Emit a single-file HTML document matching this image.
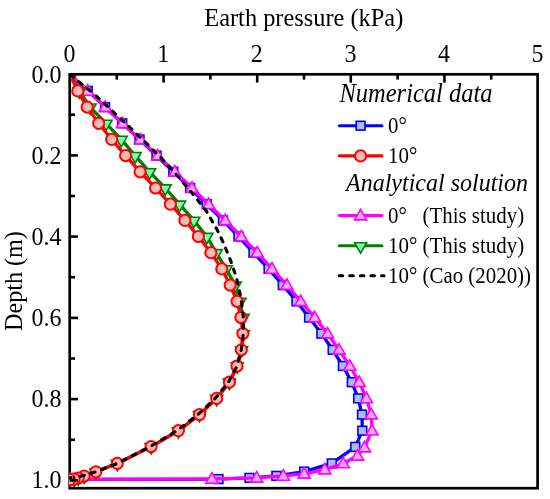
<!DOCTYPE html>
<html><head><meta charset="utf-8"><title>Earth pressure</title>
<style>
html,body{margin:0;padding:0;background:#fff;}
svg{display:block;font-family:"Liberation Serif",serif;fill:#000;}
.ax{stroke:#000;stroke-width:2.7;fill:none;stroke-linecap:square}
.tk{stroke:#000;stroke-width:2.6;fill:none}
.ln{fill:none;stroke-linejoin:round;stroke-linecap:round}
.mk{stroke-linejoin:miter}
</style></head><body>
<svg width="550" height="499" viewBox="0 0 550 499">
<rect x="0" y="0" width="550" height="499" fill="#fff"/>

<clipPath id="cp"><rect x="69" y="73" width="470" height="415"/></clipPath>
<clipPath id="cp2"><rect x="68.9" y="464" width="3.4" height="23"/></clipPath>
<g id="dat" clip-path="url(#cp)">
<polyline class="ln" stroke="#0000ff" stroke-width="3.3" points="70.0,74.7 87.8,90.9 105.1,107.1 122.2,123.3 139.5,139.4 156.5,155.6 173.3,171.8 190.1,188.0 206.7,204.2 223.0,220.4 238.5,236.5 253.5,252.7 268.6,268.9 282.8,285.1 296.5,301.3 309.1,317.5 321.4,333.6 332.7,349.8 342.9,366.0 351.8,382.2 358.2,398.4 362.0,414.6 362.3,430.7 355.3,446.9 331.8,463.4 304.2,471.6 276.4,475.9 249.5,477.9 218.5,479.1 70.0,479.3"/>
<g class="mk" stroke="#0000ff" fill="#b0bcf0" stroke-width="1.6">
<rect x="83.4" y="86.5" width="8.8" height="8.8"/>
<rect x="100.7" y="102.7" width="8.8" height="8.8"/>
<rect x="117.8" y="118.9" width="8.8" height="8.8"/>
<rect x="135.1" y="135.0" width="8.8" height="8.8"/>
<rect x="152.1" y="151.2" width="8.8" height="8.8"/>
<rect x="168.9" y="167.4" width="8.8" height="8.8"/>
<rect x="185.7" y="183.6" width="8.8" height="8.8"/>
<rect x="202.3" y="199.8" width="8.8" height="8.8"/>
<rect x="218.6" y="216.0" width="8.8" height="8.8"/>
<rect x="234.1" y="232.1" width="8.8" height="8.8"/>
<rect x="249.1" y="248.3" width="8.8" height="8.8"/>
<rect x="264.2" y="264.5" width="8.8" height="8.8"/>
<rect x="278.4" y="280.7" width="8.8" height="8.8"/>
<rect x="292.1" y="296.9" width="8.8" height="8.8"/>
<rect x="304.7" y="313.1" width="8.8" height="8.8"/>
<rect x="317.0" y="329.2" width="8.8" height="8.8"/>
<rect x="328.3" y="345.4" width="8.8" height="8.8"/>
<rect x="338.5" y="361.6" width="8.8" height="8.8"/>
<rect x="347.4" y="377.8" width="8.8" height="8.8"/>
<rect x="353.8" y="394.0" width="8.8" height="8.8"/>
<rect x="357.6" y="410.2" width="8.8" height="8.8"/>
<rect x="357.9" y="426.3" width="8.8" height="8.8"/>
<rect x="350.9" y="442.5" width="8.8" height="8.8"/>
<rect x="327.4" y="459.0" width="8.8" height="8.8"/>
<rect x="299.8" y="467.2" width="8.8" height="8.8"/>
<rect x="272.0" y="471.5" width="8.8" height="8.8"/>
<rect x="245.1" y="473.5" width="8.8" height="8.8"/>
<rect x="214.1" y="474.7" width="8.8" height="8.8"/>
</g>
<polyline class="ln" stroke="#ff00ff" stroke-width="3.3" points="70.0,74.7 87.8,90.9 105.3,107.1 122.5,123.3 140.4,139.4 157.7,155.6 174.8,171.8 192.0,188.0 208.5,204.2 225.3,220.4 241.3,236.5 257.2,252.7 272.0,268.9 286.9,285.1 300.7,301.3 314.7,317.5 327.6,333.6 339.1,349.8 349.8,366.0 359.2,382.2 366.4,398.4 371.2,414.6 372.0,430.7 364.5,447.6 357.5,455.8 343.3,463.5 324.7,469.6 304.1,473.8 283.4,475.9 256.7,477.8 212.0,478.9 70.0,479.3"/>
<g class="mk" stroke="#ff00ff" fill="#ffaaf4" stroke-width="1.6">
<polygon points="87.8,84.7 93.8,95.2 81.7,95.2"/>
<polygon points="105.3,100.9 111.3,111.4 99.2,111.4"/>
<polygon points="122.5,117.1 128.6,127.5 116.5,127.5"/>
<polygon points="140.4,133.3 146.4,143.7 134.3,143.7"/>
<polygon points="157.7,149.4 163.8,159.9 151.7,159.9"/>
<polygon points="174.8,165.6 180.9,176.1 168.8,176.1"/>
<polygon points="192.0,181.8 198.0,192.3 185.9,192.3"/>
<polygon points="208.5,198.0 214.6,208.5 202.5,208.5"/>
<polygon points="225.3,214.2 231.3,224.6 219.2,224.6"/>
<polygon points="241.3,230.4 247.3,240.8 235.2,240.8"/>
<polygon points="257.2,246.5 263.2,257.0 251.1,257.0"/>
<polygon points="272.0,262.7 278.0,273.2 265.9,273.2"/>
<polygon points="286.9,278.9 292.9,289.4 280.8,289.4"/>
<polygon points="300.7,295.1 306.8,305.6 294.7,305.6"/>
<polygon points="314.7,311.3 320.7,321.8 308.6,321.8"/>
<polygon points="327.6,327.5 333.6,337.9 321.5,337.9"/>
<polygon points="339.1,343.6 345.1,354.1 333.0,354.1"/>
<polygon points="349.8,359.8 355.8,370.3 343.7,370.3"/>
<polygon points="359.2,376.0 365.3,386.5 353.2,386.5"/>
<polygon points="366.4,392.2 372.5,402.7 360.4,402.7"/>
<polygon points="371.2,408.4 377.3,418.9 365.2,418.9"/>
<polygon points="372.0,424.6 378.1,435.0 366.0,435.0"/>
<polygon points="364.5,441.4 370.6,451.9 358.4,451.9"/>
<polygon points="357.5,449.6 363.6,460.1 351.4,460.1"/>
<polygon points="343.3,457.3 349.4,467.8 337.2,467.8"/>
<polygon points="324.7,463.4 330.8,473.9 318.6,473.9"/>
<polygon points="304.1,467.6 310.2,478.1 298.1,478.1"/>
<polygon points="283.4,469.7 289.4,480.2 277.3,480.2"/>
<polygon points="256.7,471.6 262.8,482.1 250.6,482.1"/>
<polygon points="212.0,472.7 218.1,483.2 205.9,483.2"/>
<polygon points="70.0,473.1 76.0,483.6 64.0,483.6"/>
</g>
<polyline class="ln" stroke="#008000" stroke-width="3.3" points="70.0,74.7 79.4,90.9 90.1,107.1 106.0,123.3 121.2,139.4 135.1,155.6 149.6,171.8 165.2,188.0 179.5,204.2 193.8,220.4 206.8,236.5 216.2,252.7 226.1,268.9 235.2,285.1 240.0,301.3 243.2,317.5 243.4,333.6 241.6,349.8 237.2,366.0 229.4,382.2 216.7,398.4 199.5,414.6 178.4,430.7 151.1,446.6 117.3,463.4 95.9,471.8 84.1,476.1 78.2,478.0 74.1,479.1 69.5,479.7"/>
<g class="mk" stroke="#008000" fill="#80ffb0" stroke-width="1.6">
<polygon points="79.4,98.3 85.4,87.8 73.3,87.8"/>
<polygon points="90.1,114.5 96.2,104.0 84.1,104.0"/>
<polygon points="106.0,130.6 112.1,120.2 100.0,120.2"/>
<polygon points="121.2,146.8 127.2,136.3 115.1,136.3"/>
<polygon points="135.1,163.0 141.2,152.5 129.1,152.5"/>
<polygon points="149.6,179.2 155.6,168.7 143.5,168.7"/>
<polygon points="165.2,195.4 171.2,184.9 159.1,184.9"/>
<polygon points="179.5,211.6 185.6,201.1 173.5,201.1"/>
<polygon points="193.8,227.7 199.9,217.3 187.8,217.3"/>
<polygon points="206.8,243.9 212.9,233.4 200.8,233.4"/>
<polygon points="216.2,260.1 222.3,249.6 210.2,249.6"/>
<polygon points="226.1,276.3 232.2,265.8 220.1,265.8"/>
<polygon points="235.2,292.5 241.3,282.0 229.2,282.0"/>
<polygon points="240.0,308.7 246.0,298.2 233.9,298.2"/>
<polygon points="243.2,324.8 249.2,314.4 237.1,314.4"/>
<polygon points="243.4,341.0 249.5,330.6 237.4,330.6"/>
<polygon points="241.6,357.2 247.6,346.7 235.5,346.7"/>
<polygon points="237.2,373.4 243.2,362.9 231.1,362.9"/>
<polygon points="229.4,389.6 235.5,379.1 223.4,379.1"/>
<polygon points="216.7,405.8 222.7,395.3 210.6,395.3"/>
<polygon points="199.5,421.9 205.6,411.5 193.5,411.5"/>
<polygon points="178.4,438.1 184.4,427.7 172.3,427.7"/>
<polygon points="151.1,454.0 157.2,443.5 145.0,443.5"/>
<polygon points="117.3,470.8 123.3,460.3 111.2,460.3"/>
<polygon points="95.9,479.2 102.0,468.7 89.9,468.7"/>
<polygon points="84.1,483.5 90.1,473.0 78.0,473.0"/>
<polygon points="78.2,485.4 84.2,474.9 72.2,474.9"/>
<polygon points="74.1,486.5 80.1,476.0 68.0,476.0"/>
<polygon points="69.5,487.1 75.5,476.6 63.5,476.6"/>
</g>
<polyline class="ln" stroke="#ff0000" stroke-width="3.3" points="70.0,74.7 77.8,90.9 87.2,107.1 98.7,123.3 111.7,139.4 125.6,155.6 140.1,171.8 155.6,188.0 170.4,204.2 184.9,220.4 198.4,236.5 210.9,252.7 221.8,268.9 230.2,285.1 237.1,301.3 240.9,317.5 242.9,333.6 241.3,349.8 237.0,366.0 229.4,382.2 216.7,398.4 199.5,414.6 178.4,430.7 151.1,446.6 117.3,463.4 95.9,471.8 84.1,476.1 78.2,478.0 74.1,479.1 69.5,479.7"/>
<g class="mk" stroke="#ff0000" fill="#fcbab6" stroke-width="2.0">
<circle cx="70.0" cy="74.7" r="5.6"/>
<circle cx="77.8" cy="90.9" r="5.6"/>
<circle cx="87.2" cy="107.1" r="5.6"/>
<circle cx="98.7" cy="123.3" r="5.6"/>
<circle cx="111.7" cy="139.4" r="5.6"/>
<circle cx="125.6" cy="155.6" r="5.6"/>
<circle cx="140.1" cy="171.8" r="5.6"/>
<circle cx="155.6" cy="188.0" r="5.6"/>
<circle cx="170.4" cy="204.2" r="5.6"/>
<circle cx="184.9" cy="220.4" r="5.6"/>
<circle cx="198.4" cy="236.5" r="5.6"/>
<circle cx="210.9" cy="252.7" r="5.6"/>
<circle cx="221.8" cy="268.9" r="5.6"/>
<circle cx="230.2" cy="285.1" r="5.6"/>
<circle cx="237.1" cy="301.3" r="5.6"/>
<circle cx="240.9" cy="317.5" r="5.6"/>
<circle cx="242.9" cy="333.6" r="5.6"/>
<circle cx="241.3" cy="349.8" r="5.6"/>
<circle cx="237.0" cy="366.0" r="5.6"/>
<circle cx="229.4" cy="382.2" r="5.6"/>
<circle cx="216.7" cy="398.4" r="5.6"/>
<circle cx="199.5" cy="414.6" r="5.6"/>
<circle cx="178.4" cy="430.7" r="5.6"/>
<circle cx="151.1" cy="446.6" r="5.6"/>
<circle cx="117.3" cy="463.4" r="5.6"/>
<circle cx="95.9" cy="471.8" r="5.6"/>
<circle cx="84.1" cy="476.1" r="5.6"/>
<circle cx="78.2" cy="478.0" r="5.6"/>
<circle cx="74.1" cy="479.1" r="5.6"/>
<circle cx="69.5" cy="479.7" r="5.6"/>
</g>
<polyline fill="none" stroke="#000" stroke-width="3.1" stroke-dasharray="4.2,7" stroke-linecap="round" stroke-linejoin="round" points="70.0,74.7 95.1,94.9 116.8,115.2 138.3,135.4 158.9,155.6 177.6,175.9 194.5,196.1 206.5,211.3 216.7,228.9 223.3,242.6 230.7,260.8 236.6,278.2 241.1,298.4 243.2,316.2 243.3,334.0 241.3,349.8 237.0,366.0 228.4,382.2 215.1,398.4 197.9,414.6 176.9,430.7 150.2,446.6 117.3,463.4 95.9,471.8 84.1,475.4 78.2,476.7 74.1,477.4 69.5,477.9"/>
</g>
<rect class="ax" x="69.7" y="74.3" width="467.9" height="413.9"/>
<g clip-path="url(#cp2)"><use href="#dat"/></g>
<line class="tk" x1="116.8" y1="74.3" x2="116.8" y2="79.6"/>
<line class="tk" x1="163.6" y1="74.3" x2="163.6" y2="82.6"/>
<line class="tk" x1="210.4" y1="74.3" x2="210.4" y2="79.6"/>
<line class="tk" x1="257.2" y1="74.3" x2="257.2" y2="82.6"/>
<line class="tk" x1="304.0" y1="74.3" x2="304.0" y2="79.6"/>
<line class="tk" x1="350.8" y1="74.3" x2="350.8" y2="82.6"/>
<line class="tk" x1="397.6" y1="74.3" x2="397.6" y2="79.6"/>
<line class="tk" x1="444.4" y1="74.3" x2="444.4" y2="82.6"/>
<line class="tk" x1="491.2" y1="74.3" x2="491.2" y2="79.6"/>
<line class="tk" x1="69.7" y1="114.7" x2="75.0" y2="114.7"/>
<line class="tk" x1="69.7" y1="155.4" x2="78.0" y2="155.4"/>
<line class="tk" x1="69.7" y1="196.0" x2="75.0" y2="196.0"/>
<line class="tk" x1="69.7" y1="236.6" x2="78.0" y2="236.6"/>
<line class="tk" x1="69.7" y1="277.2" x2="75.0" y2="277.2"/>
<line class="tk" x1="69.7" y1="317.9" x2="78.0" y2="317.9"/>
<line class="tk" x1="69.7" y1="358.5" x2="75.0" y2="358.5"/>
<line class="tk" x1="69.7" y1="399.1" x2="78.0" y2="399.1"/>
<line class="tk" x1="69.7" y1="439.8" x2="75.0" y2="439.8"/>
<line class="tk" x1="69.7" y1="480.4" x2="78.0" y2="480.4"/>
<text x="63.6" y="61.7" font-size="24.3" textLength="12.0" lengthAdjust="spacingAndGlyphs" xml:space="preserve">0</text>
<text x="157.2" y="61.7" font-size="24.3" textLength="12.0" lengthAdjust="spacingAndGlyphs" xml:space="preserve">1</text>
<text x="250.8" y="61.7" font-size="24.3" textLength="12.0" lengthAdjust="spacingAndGlyphs" xml:space="preserve">2</text>
<text x="344.4" y="61.7" font-size="24.3" textLength="12.0" lengthAdjust="spacingAndGlyphs" xml:space="preserve">3</text>
<text x="438.0" y="61.7" font-size="24.3" textLength="12.0" lengthAdjust="spacingAndGlyphs" xml:space="preserve">4</text>
<text x="531.6" y="61.7" font-size="24.3" textLength="12.0" lengthAdjust="spacingAndGlyphs" xml:space="preserve">5</text>
<text x="31.4" y="82.5" font-size="24.3" textLength="30.0" lengthAdjust="spacingAndGlyphs" xml:space="preserve">0.0</text>
<text x="31.4" y="163.6" font-size="24.3" textLength="30.0" lengthAdjust="spacingAndGlyphs" xml:space="preserve">0.2</text>
<text x="31.4" y="244.7" font-size="24.3" textLength="30.0" lengthAdjust="spacingAndGlyphs" xml:space="preserve">0.4</text>
<text x="31.4" y="325.8" font-size="24.3" textLength="30.0" lengthAdjust="spacingAndGlyphs" xml:space="preserve">0.6</text>
<text x="31.4" y="406.9" font-size="24.3" textLength="30.0" lengthAdjust="spacingAndGlyphs" xml:space="preserve">0.8</text>
<text x="31.4" y="488.0" font-size="24.3" textLength="30.0" lengthAdjust="spacingAndGlyphs" xml:space="preserve">1.0</text>
<text x="204.3" y="25.8" font-size="24.8" textLength="199.0" lengthAdjust="spacingAndGlyphs" xml:space="preserve">Earth pressure (kPa)</text>
<text transform="translate(22.3,330.9) rotate(-90)" font-size="25.0" textLength="99.8" lengthAdjust="spacingAndGlyphs" xml:space="preserve">Depth (m)</text>
<text x="339.5" y="101.5" font-size="26.5" font-style="italic" textLength="153.0" lengthAdjust="spacingAndGlyphs" xml:space="preserve">Numerical data</text>
<text x="346.0" y="191.2" font-size="26" font-style="italic" textLength="182.0" lengthAdjust="spacingAndGlyphs" xml:space="preserve">Analytical solution</text>
<line class="ln" stroke="#0000ff" stroke-width="3.1" x1="339.4" y1="125.7" x2="381.9" y2="125.7"/>
<g class="mk" stroke="#0000ff" fill="#b0bcf0" stroke-width="1.6"><rect x="356.2" y="121.3" width="8.8" height="8.8"/></g>
<text x="388.0" y="133.1" font-size="23" textLength="18.8" lengthAdjust="spacingAndGlyphs" xml:space="preserve">0°</text>
<line class="ln" stroke="#ff0000" stroke-width="3.1" x1="339.4" y1="155.9" x2="381.9" y2="155.9"/>
<g class="mk" stroke="#ff0000" fill="#fcbab6" stroke-width="2.0"><circle cx="360.6" cy="155.9" r="5.6"/></g>
<text x="388.0" y="163.3" font-size="23" textLength="29.3" lengthAdjust="spacingAndGlyphs" xml:space="preserve">10°</text>
<line class="ln" stroke="#ff00ff" stroke-width="3.1" x1="339.4" y1="215.6" x2="381.9" y2="215.6"/>
<g class="mk" stroke="#ff00ff" fill="#ffaaf4" stroke-width="1.6"><polygon points="360.6,209.4 366.7,219.9 354.6,219.9"/></g>
<text x="388.0" y="223.0" font-size="23" textLength="136.1" lengthAdjust="spacingAndGlyphs" xml:space="preserve">0°   (This study)</text>
<line class="ln" stroke="#008000" stroke-width="3.1" x1="339.4" y1="245.8" x2="381.9" y2="245.8"/>
<g class="mk" stroke="#008000" fill="#80ffb0" stroke-width="1.6"><polygon points="360.6,253.2 366.7,242.7 354.6,242.7"/></g>
<text x="388.0" y="253.2" font-size="23" textLength="136.1" lengthAdjust="spacingAndGlyphs" xml:space="preserve">10° (This study)</text>
<line fill="none" stroke="#000" stroke-width="3" stroke-dasharray="3.6,7" stroke-linecap="round" x1="339.1" y1="275.7" x2="384" y2="275.7"/>
<text x="388.0" y="283.4" font-size="23" textLength="143.0" lengthAdjust="spacingAndGlyphs" xml:space="preserve">10° (Cao (2020))</text>
</svg></body></html>
